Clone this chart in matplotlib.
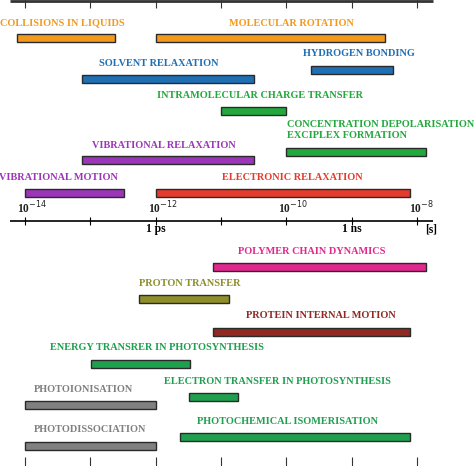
import matplotlib.pyplot as plt
import numpy as np

# timescales of processes, log10(seconds)
names = ["COLLISIONS IN LIQUIDS", "MOLECULAR ROTATION", "SOLVENT RELAXATION",
         "HYDROGEN BONDING", "INTRAMOLECULAR CHARGE TRANSFER",
         "CONCENTRATION DEPOLARISATION\nEXCIPLEX FORMATION",
         "VIBRATIONAL RELAXATION", "VIBRATIONAL MOTION", "ELECTRONIC RELAXATION",
         "POLYMER CHAIN DYNAMICS", "PROTON TRANSFER", "PROTEIN INTERNAL MOTION",
         "ENERGY TRANSRER IN PHOTOSYNTHESIS", "PHOTOIONISATION",
         "ELECTRON TRANSFER IN PHOTOSYNTHESIS", "PHOTODISSOCIATION",
         "PHOTOCHEMICAL ISOMERISATION"]
start = [-14.12, -12.0, -13.12, -9.62, -11.0, -10.0, -13.12, -14.0, -12.0,
         -11.12, -12.25, -11.12, -12.99, -14.0, -11.49, -14.0, -11.62]
end = [-12.62, -8.49, -10.49, -8.36, -10.0, -7.86, -10.49, -12.48, -8.11,
       -7.86, -10.87, -8.11, -11.48, -12.0, -10.74, -12.0, -8.11]
colors = ["#F39A1E", "#F39A1E", "#1F6FB5", "#1F6FB5", "#22A83C", "#22A83C",
          "#9C36B8", "#9C36B8", "#E53B2C", "#E2288F", "#8E8E2A", "#8E2A22",
          "#1FA04E", "#808080", "#1FA04E", "#808080", "#1FA04E"]

# layout (pixel rows, label anchors)
bar_y = [38, 38, 79, 70, 111, 152, 160, 193, 193, 267, 299, 332, 364, 405, 397, 446, 437]
lab_y = [23, 23, 63, 54, 96, 130, 145, 177, 177, 251, 283, 316, 348, 389, 381, 430, 422]
lab_px = [0, 229, 99, 303, 157, 287, 92, -1, 222, 238, 139, 246, 50, 34, 164, 34, 197]

decades = np.arange(-14, -7)
W, H = 474, 466
x0, ppd = 25, 65.3  # pixel of 1e-14, pixels per decade


def px2log(px):
    return -14 + (px - x0) / ppd


fig = plt.figure(figsize=(W / 100, H / 100), dpi=100)
ax = fig.add_axes([0, 0, 1, 1])
ax.set_xscale("log")
ax.set_xlim(10 ** px2log(0), 10 ** px2log(W))
ax.set_ylim(H, 0)
ax.axis("off")

font = dict(family="Liberation Serif", weight="bold", fontsize=7.35)

for n, s, e, c, by, ly, lx in zip(names, start, end, colors, bar_y, lab_y, lab_px):
    ax.barh(by, 10 ** e - 10 ** s, left=10 ** s, height=8, color=c,
            edgecolor="#2a2a2a", linewidth=1.0)
    ax.text(10 ** px2log(lx), ly, n, color=c, ha="left", va="center",
            linespacing=1.25, **font)

xl, xr = 10 ** px2log(10), 10 ** px2log(433)
tick_x = 10.0 ** decades

# top border with ticks
ax.hlines(0.8, xl, xr, color="#333333", lw=2)
ax.vlines(tick_x, 0, 8, color="#333333", lw=0.8)

# middle time axis
ax.hlines(221, xl, xr, color="black", lw=1.2)
ax.vlines(tick_x, 217, 225, color="black", lw=0.8)
big = {**font, "fontsize": 8.3}
for d in decades[::2]:
    ax.text(10.0 ** (d - 8 / ppd), 208, "10$^{%d}$" % d, ha="left", va="center",
            color="#222222", **big)
for d, t in [(-12, "1 ps"), (-9, "1 ns")]:
    ax.text(10.0 ** d, 229, t, ha="center", va="center", **big)
ax.text(10 ** px2log(431), 229, "[s]", ha="center", va="center", **big)

# bottom ticks
ax.vlines(tick_x, 457, 466, color="#333333", lw=0.8)

fig.savefig("out.png", dpi=100)
